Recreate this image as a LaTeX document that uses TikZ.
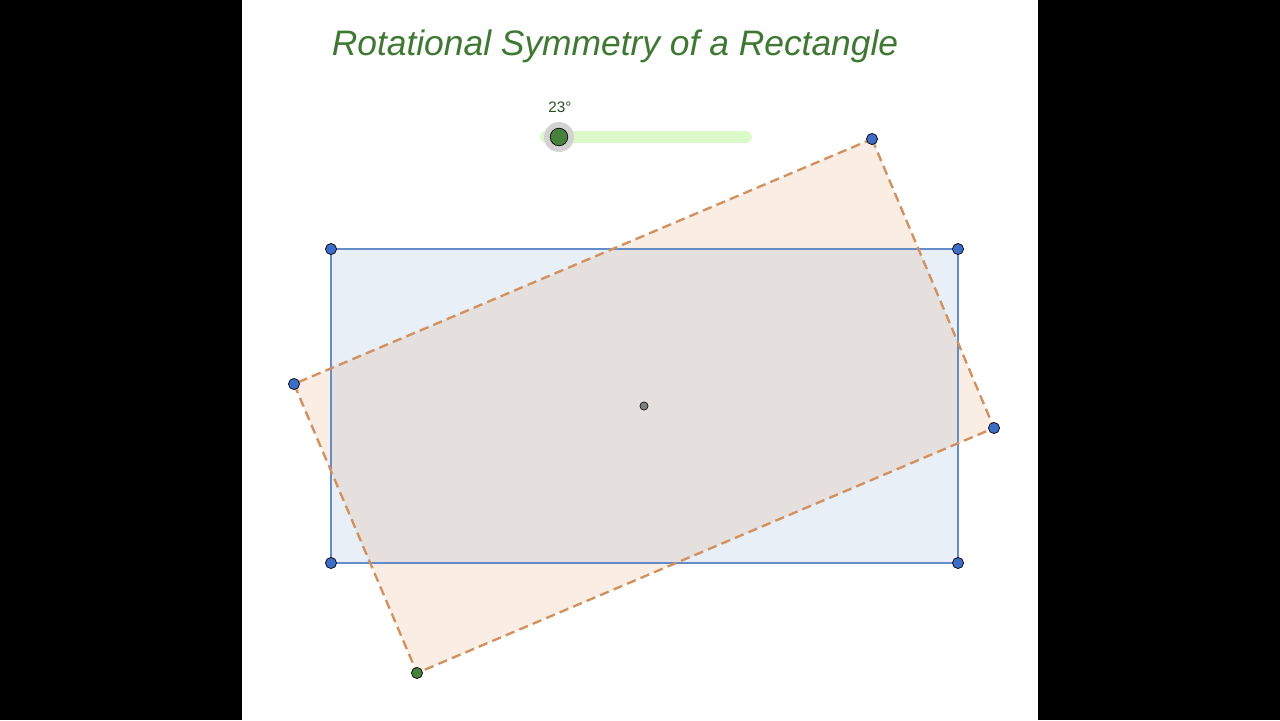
\documentclass[tikz,border=0pt]{standalone}
\usepackage{fontspec}
\setmainfont{Liberation Sans}
\definecolor{titlegreen}{RGB}{62,120,50}
\definecolor{labgreen}{RGB}{40,80,30}
\definecolor{slider}{RGB}{220,250,200}
\definecolor{knobc}{RGB}{70,130,60}
\definecolor{rectfill}{RGB}{232,239,247}
\definecolor{rectline}{RGB}{100,140,200}
\definecolor{rotfill}{RGB}{215,140,80}
\definecolor{rotline}{RGB}{210,145,95}
\definecolor{ptblue}{RGB}{60,110,200}
\definecolor{ptgreen}{RGB}{70,130,60}
\begin{document}
\begin{tikzpicture}[x=0.03cm,y=-0.03cm,
  pt/.style={circle,draw=black,line width=0.6pt,fill=ptblue,inner sep=0pt,minimum size=9.5pt},
  gpt/.style={pt,fill=ptgreen}]
\fill[black] (0,0) rectangle (1280,720);
\fill[white] (242,0) rectangle (1038,720);
\useasboundingbox (0,0) rectangle (1280,720);
\node (title) at (615,46) {\fontsize{30.2}{34}\selectfont\itshape\color{titlegreen}Rotational Symmetry of a Rectangle};
\node (lab) at (560,107) {\fontsize{13}{15}\selectfont\color{labgreen}23°};
\draw[line width=10pt,line cap=round,color=slider] (546,137) -- (746,137);
\fill[gray!35] (559,137) circle (15);
\node[circle,draw=black,line width=0.6pt,fill=knobc,inner sep=0pt,minimum size=15pt] (knob) at (559,137) {};
\coordinate (A) at (331,249); \coordinate (B) at (958,249);
\coordinate (C) at (958,563); \coordinate (D) at (331,563);
\coordinate (P) at (872,139); \coordinate (Q) at (994,428);
\coordinate (R) at (417,673); \coordinate (S) at (294,384);
\fill[rectfill] (A)--(B)--(C)--(D)--cycle;
\fill[rotfill,fill opacity=0.15] (P)--(Q)--(R)--(S)--cycle;
\draw[rectline,line width=2pt] (A)--(B)--(C)--(D)--cycle;
\draw[rotline,line width=2pt,dash pattern=on 8pt off 4.5pt] (P)--(Q)--(R)--(S)--cycle;
\foreach \c in {A,B,C,D,P,Q,S} \node[pt] at (\c) {};
\node[gpt] at (R) {};
\node[circle,draw=black,line width=0.5pt,fill=gray,inner sep=0pt,minimum size=7pt] (O) at (644,406) {};
\end{tikzpicture}
\end{document}
